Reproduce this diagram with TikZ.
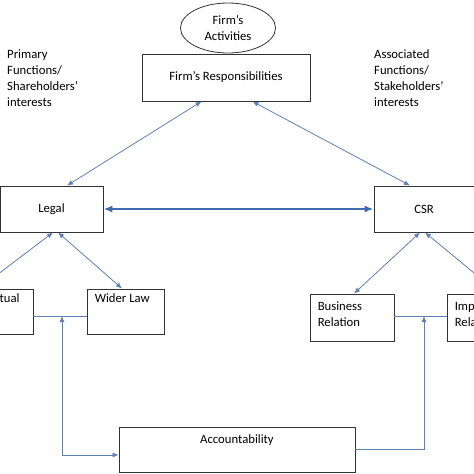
\documentclass[tikz,border=0pt]{standalone}
\usepackage{fontspec}
\setmainfont{Carlito}
\usetikzlibrary{arrows.meta,shapes.geometric,calc}
\definecolor{conn}{HTML}{5E80B8}
\definecolor{thick}{HTML}{3F6CB0}
\definecolor{edge}{HTML}{333333}
\begin{document}
\begin{tikzpicture}[x=1pt,y=-1pt,
  every node/.style={font=\fontsize{12.7}{16}\selectfont, text=black},
  box/.style={draw=edge, line width=0.9pt, rectangle, inner sep=0pt},
  lab/.style={anchor=base west, inner sep=0pt, align=left},
  conn/.style={draw=conn, line width=0.8pt},
  tip/.style={-{Latex[length=6pt,width=5pt]}},
  tips/.style={{Latex[length=6pt,width=5pt]}-{Latex[length=6pt,width=5pt]}},
  bigtips/.style={{Latex[length=9pt,width=7pt]}-{Latex[length=9pt,width=7pt]}}
]
\useasboundingbox (0,0) rectangle (474,474);
\clip (0,0) rectangle (474,474);
\fill[white] (0,0) rectangle (474,474);

% nodes
\node[ellipse, draw=edge, line width=0.8pt, minimum width=95pt, minimum height=50pt, inner sep=0pt, align=center] (act) at (228,28) {Firm’s\\Activities};
\node[box, minimum width=168pt, minimum height=47pt] (resp) at (226,77.5) {Firm’s Responsibilities};
\node[anchor=west, align=left, inner sep=0pt] (prim) at (7,78.5) {Primary\\Functions/\\Shareholders’\\interests};
\node[anchor=west, align=left, inner sep=0pt] (assoc) at (374,78.5) {Associated\\Functions/\\Stakeholders’\\interests};
\node[box, minimum width=103pt, minimum height=46pt] (legal) at (51.5,209) {Legal};
\node[box, minimum width=100pt, minimum height=46pt] (csr) at (424,209) {CSR};

\node[box, minimum width=84pt, minimum height=45pt] (contr) at (-9,311.5) {};
\node[lab] at ([xshift=11pt,yshift=-14pt]contr.north west) {Contractual};
\node[box, minimum width=77pt, minimum height=45pt] (wider) at (125.5,311.5) {};
\node[lab] at ([xshift=8pt,yshift=-14pt]wider.north west) {Wider Law};

\node[box, minimum width=84pt, minimum height=47pt] (bus) at (352,317.5) {};
\node[lab] at ([xshift=8pt,yshift=-33pt]bus.north west) {Business\\Relation};
\node[box, minimum width=84pt, minimum height=47pt] (imp) at (489,317.5) {};
\node[lab] at ([xshift=8pt,yshift=-33pt]imp.north west) {Impact\\Relation};

\node[box, minimum width=236pt, minimum height=45pt] (acc) at (237,449.5) {};
\node[anchor=base, inner sep=0pt] at ([yshift=-16.5pt]acc.north) {Accountability};

% connectors
\draw[conn, tips] ([xshift=60pt]resp.south west) -- ([xshift=15.5pt]legal.north);
\draw[conn, tips] ([xshift=-58pt]resp.south east) -- ([xshift=-14pt]csr.north);
\draw[conn, line width=1.8pt, draw=thick, bigtips] (legal.east) -- (csr.west);

\draw[conn, tips] ([xshift=1.5pt]legal.south) -- ([xshift=-12pt]contr.north);
\draw[conn, tips] ([xshift=6.5pt]legal.south) -- ([xshift=-3.5pt]wider.north);
\draw[conn, tips] ([xshift=-4pt]csr.south) -- ([xshift=2pt]bus.north);
\draw[conn, tips] ([xshift=1pt]csr.south) -- ([xshift=10pt]imp.north);

\coordinate (jl) at (62,316);
\coordinate (jr) at (424,316);
\draw[conn] (contr.east |- jl) -- (wider.west |- jl);
\draw[conn] (bus.east |- jr) -- (imp.west |- jr);
\draw[conn, tips] (acc.west |- 0,455) -- (jl |- 0,455) -- (jl);
\draw[conn, tip] (acc.east |- 0,449) -- (jr |- 0,449) -- (jr);
\end{tikzpicture}
\end{document}
